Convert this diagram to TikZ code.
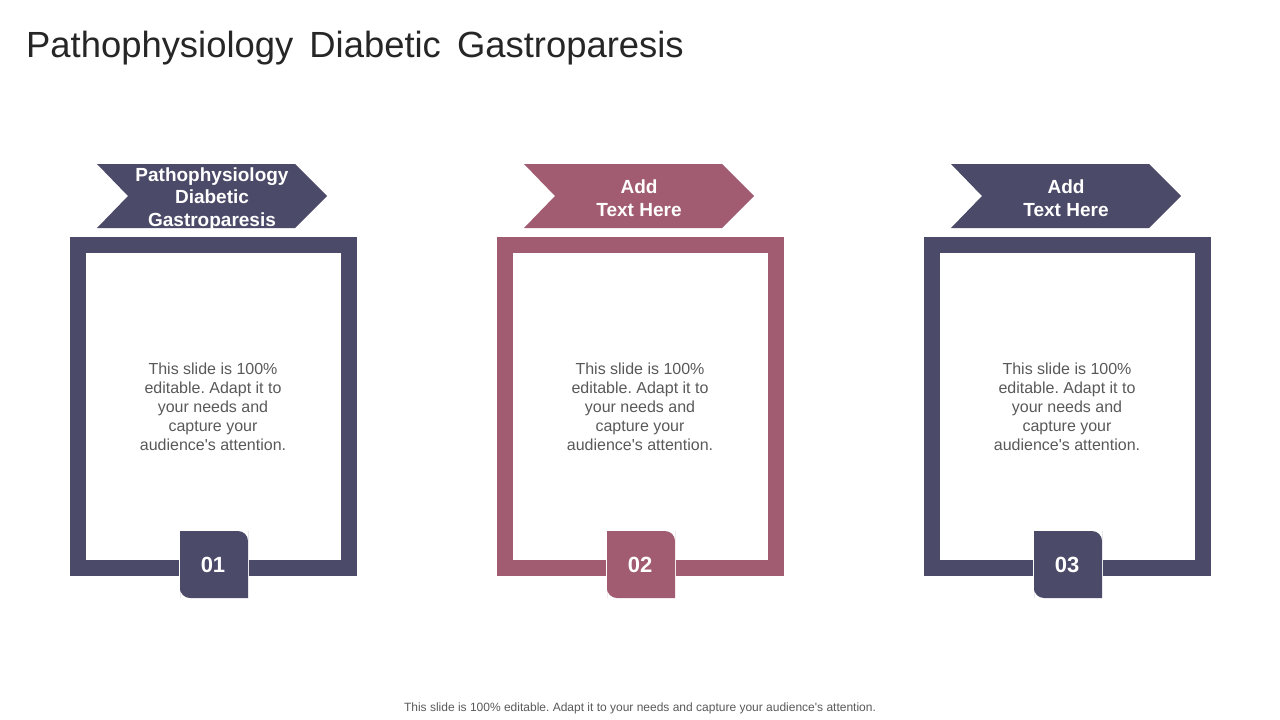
\documentclass[tikz,border=0pt]{standalone}
\usepackage{fontspec}
\setmainfont{Liberation Sans}
\frenchspacing
\definecolor{slate}{HTML}{4B4A68}
\definecolor{rose}{HTML}{A25C72}
\definecolor{bodygray}{HTML}{595959}
\definecolor{titlegray}{HTML}{262626}
\begin{document}
\begin{tikzpicture}[x=1pt,y=-1pt,
    frame/.style={line width=16pt},
    head/.style={text=white,font=\fontsize{19}{22.5}\selectfont\bfseries,align=center},
    body/.style={text=bodygray,font=\fontsize{16}{19}\selectfont,align=center},
    badgetext/.style={text=white,font=\fontsize{22}{26}\selectfont\bfseries}]
  \useasboundingbox (0,0) rectangle (1280,720);
  \node[anchor=base west,text=titlegray,font=\fontsize{36.4}{42}\selectfont,inner sep=0pt] (title) at (26,57) {Pathophysiology\, Diabetic\, Gastroparesis};
  % column 1
  \fill[slate] (97,164) -- (295,164) -- (327,196) -- (295,228) -- (97,228) -- (128,196) -- cycle;
  \node[head] (h1) at (212,199) {Pathophysiology\\Diabetic\\Gastroparesis};
  \draw[slate,frame] (77.5,245) rectangle (348.5,568);
  \node[body] (t1) at (213,407) {This slide is 100\%\\editable. Adapt it to\\your needs and\\capture your\\audience\textquotesingle s attention.};
  \fill[white] (179,530) rectangle (249,599);
  \fill[slate] (180,565) [sharp corners] -- (180,531) -- (238,531) [rounded corners=10pt] -- (248,531) -- (248,541) [sharp corners] -- (248,598) -- (190,598) [rounded corners=10pt] -- (180,598) -- (180,588) [sharp corners] -- cycle;
  \node[badgetext] (b1) at (213,564.5) {01};
  % column 2
  \fill[rose] (524,164) -- (722,164) -- (754,196) -- (722,228) -- (524,228) -- (555,196) -- cycle;
  \node[head] (h2) at (639,198) {Add\\Text Here};
  \draw[rose,frame] (504.5,245) rectangle (775.5,568);
  \node[body] (t2) at (640,407) {This slide is 100\%\\editable. Adapt it to\\your needs and\\capture your\\audience\textquotesingle s attention.};
  \fill[white] (606,530) rectangle (676,599);
  \fill[rose] (607,565) [sharp corners] -- (607,531) -- (665,531) [rounded corners=10pt] -- (675,531) -- (675,541) [sharp corners] -- (675,598) -- (617,598) [rounded corners=10pt] -- (607,598) -- (607,588) [sharp corners] -- cycle;
  \node[badgetext] (b2) at (640,564.5) {02};
  % column 3
  \fill[slate] (951,164) -- (1149,164) -- (1181,196) -- (1149,228) -- (951,228) -- (982,196) -- cycle;
  \node[head] (h3) at (1066,198) {Add\\Text Here};
  \draw[slate,frame] (931.5,245) rectangle (1202.5,568);
  \node[body] (t3) at (1067,407) {This slide is 100\%\\editable. Adapt it to\\your needs and\\capture your\\audience\textquotesingle s attention.};
  \fill[white] (1033,530) rectangle (1103,599);
  \fill[slate] (1034,565) [sharp corners] -- (1034,531) -- (1092,531) [rounded corners=10pt] -- (1102,531) -- (1102,541) [sharp corners] -- (1102,598) -- (1044,598) [rounded corners=10pt] -- (1034,598) -- (1034,588) [sharp corners] -- cycle;
  \node[badgetext] (b3) at (1067,564.5) {03};
  % footer
  \node[text=bodygray,font=\fontsize{12}{14}\selectfont] (foot) at (640,708) {This slide is 100\% editable. Adapt it to your needs and capture your audience\textquotesingle s attention.};
\end{tikzpicture}
\end{document}
